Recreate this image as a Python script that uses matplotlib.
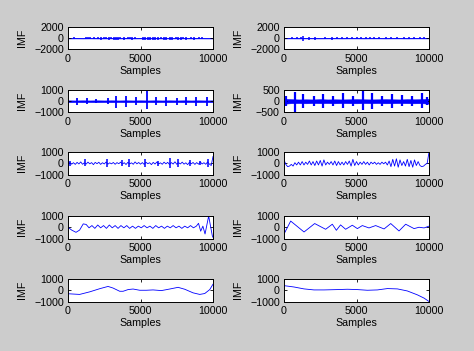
import numpy as np
import matplotlib.pyplot as plt

plt.rcParams['font.family'] = ['Liberation Sans', 'DejaVu Sans']
plt.rcParams['font.size'] = 7.7

# ---- data (samples 0..10000) ----
# dense IMFs: narrow envelope of the background + burst extents
band_x = [0, 500, 1000, 1500, 2000, 2500, 3000, 3500, 4000, 4500, 5000,
          5500, 6000, 6500, 7000, 7500, 8000, 8500, 9000, 9500, 10000]

imf1_hi = [40, 30, 40, 30, 40, 40, 30, 40, 30, 40, 30, 40, 30, 40, 30, 40, 30, 40, 30, 40, 40]
imf1_lo = [-40, -30, -40, -30, -40, -40, -30, -40, -30, -40, -30, -40, -30, -40, -30, -40, -30, -40, -30, -40, -40]
imf1_burst_x = [391, 1219, 1380, 1541, 1794, 2093, 2300, 2461, 2645, 2829, 2990, 3174,
                3335, 3450, 3611, 3841, 4140, 4255, 4439, 4600, 5175, 5336, 5520, 5681,
                5865, 6026, 6210, 6440, 6601, 6785, 7015, 7199, 7429, 7590, 7774, 7935,
                8119, 8510, 8694, 9039, 9269]
imf1_burst_hi = [200, 150, 200, 150, 200, 150, 250, 200, 150, 250, 200, 300,
                 250, 300, 200, 250, 200, 150, 250, 200, 250, 300, 250, 300,
                 250, 300, 250, 200, 300, 250, 300, 250, 200, 300, 250, 200,
                 250, 200, 250, 150, 200]
imf1_burst_lo = [-200, -150, -200, -150, -200, -150, -250, -200, -150, -250, -200, -300,
                 -250, -300, -200, -250, -200, -150, -250, -200, -250, -300, -250, -300,
                 -250, -300, -250, -200, -300, -250, -300, -250, -200, -300, -250, -200,
                 -250, -200, -250, -150, -200]

imf2_hi = [30, 30, 40, 30, 30, 40, 30, 30, 40, 30, 30, 40, 30, 30, 40, 30, 30, 40, 30, 30, 30]
imf2_lo = [-30, -30, -40, -30, -30, -40, -30, -30, -40, -30, -30, -40, -30, -30, -40, -30, -30, -40, -30, -30, -30]
imf2_burst_x = [575, 920, 1196, 1334, 1725, 2116, 2806, 3335, 3680, 4025, 4370, 4715,
                5014, 5336, 5635, 5934, 6210, 6555, 7015, 7360, 7820, 8280, 8625, 8970,
                9384, 9660]
imf2_burst_hi = [150, 200, 200, 450, 200, 250, 150, 300, 200, 150, 200, 150,
                 200, 150, 200, 200, 150, 200, 150, 150, 200, 150, 200, 150,
                 200, 150]
imf2_burst_lo = [-150, -200, -200, -450, -250, -250, -150, -300, -200, -150, -200, -150,
                 -200, -150, -200, -200, -150, -200, -150, -150, -200, -150, -200, -150,
                 -200, -150]

imf3_hi = [80, 70, 80, 70, 80, 70, 80, 70, 80, 70, 80, 70, 80, 70, 80, 70, 80, 70, 80, 70, 80]
imf3_lo = [-80, -70, -80, -70, -80, -70, -80, -70, -80, -70, -80, -70, -80, -70, -80, -70, -80, -70, -80, -70, -80]
imf3_burst_x = [621, 1311, 1955, 2760, 3335, 4025, 4715, 5474, 6095, 6785, 7521, 8165, 8855, 9591]
imf3_burst_hi = [300, 250, 200, 250, 460, 450, 350, 890, 350, 400, 300, 350, 400, 400]
imf3_burst_lo = [-300, -250, -200, -250, -615, -500, -350, -700, -350, -400, -300, -350, -400, -400]

imf4_hi = [110, 90, 80, 85, 80, 90, 80, 85, 80, 85, 90, 85, 80, 85, 90, 85, 80, 90, 85, 90, 110]
imf4_lo = [-110, -85, -80, -90, -80, -85, -80, -90, -80, -85, -90, -80, -85, -80, -90, -85, -80, -85, -90, -85, -110]
imf4_burst_x = [115, 736, 1311, 2070, 2714, 3404, 4094, 4784, 5474, 6095, 6785, 7475,
                8165, 8855, 9545, 9850]
imf4_burst_hi = [230, 415, 340, 230, 300, 230, 380, 230, 450, 380, 230, 300, 260, 230, 380, 180]
imf4_burst_lo = [-230, -480, -280, -200, -280, -230, -280, -230, -385, -350, -230, -280, -230, -230, -320, -170]

# left, row 3: wiggly background line + bursts
imf5_line = [0, 60, -80, 50, -100, 80, -60, 120, -90, 40, -70, 100, -50, 60, -120, 80,
             -40, 90, -100, 50, -60, 110, -80, 40, -50, 70, -90, 60, -40, 100, -70, 50,
             -110, 80, -60, 40, -90, 120, -50, 70, -80, 60, -100, 90, -40, 50, -120, 80,
             -70, 110, -60, 40, -90, 100, -50, 80, -110, 60, -70, 130, -90, 50, -60, 100,
             -80, 40, -120, 90, -50, 70, -100, 60, -80, 110, -60, 50, -90, 120, -70, -200, 600]
imf5_burst_x = [160, 1150, 2690, 3726, 4209, 5313, 6233, 7015, 7590, 8395, 9085, 9637]
imf5_burst_hi = [200, 340, 340, 260, 340, 340, 200, 430, 340, 260, 200, 340]
imf5_burst_lo = [-230, -230, -310, -260, -370, -370, -230, -430, -370, -230, -170, -370]

# right, row 3: oscillating IMF on a 125-sample grid
imf6_line = [300, -100, -300, -250, -100, -250, 50, -150, 100, -150, 150, -150, 100, -100,
             200, -150, 150, -200, 200, -150, 250, -250, 300, -150, 100, -100, 150, -150,
             200, -200, 150, -150, 100, -150, 150, -100, 200, -250, 350, -200, 150, -150,
             100, -100, 150, -100, 100, -150, 100, -50, 100, -100, 50, -100, 100, -50,
             100, -150, 200, -300, 350, -250, 400, -350, 300, -200, 150, -250, 350, -300,
             250, -350, 300, -200, 150, -200, -300, -250, -100, 0, 1000]

# slow IMFs: (sample, value) knots
imf7_x = [0, 250, 550, 800, 1050, 1250, 1450, 1650, 1850, 2050, 2250, 2450, 2650, 2850,
          3050, 3250, 3450, 3650, 3850, 4050, 4250, 4450, 4650, 4850, 5050, 5250, 5450,
          5650, 5850, 6050, 6250, 6450, 6650, 6850, 7050, 7250, 7450, 7650, 7850, 8050,
          8250, 8450, 8650, 8850, 9000, 9150, 9300, 9450, 9700, 9950, 10000]
imf7_y = [0, -250, -450, -250, 300, 250, -50, 150, -100, 200, -50, 150, -100, 200,
          -50, 150, -100, 150, -50, 150, -100, 100, -100, 100, -50, 150, -50,
          100, -100, 150, -50, 100, -100, 100, -50, 150, -50, 100, -100, 100,
          -50, 150, -50, 100, 350, -350, 100, -600, 1000, -750, -900]

imf8_x = [0, 460, 1380, 2115, 2870, 3330, 3610, 3900, 4250, 4710, 5060, 5400, 5860,
          6320, 6900, 7360, 7930, 8390, 8970, 9310, 9660, 10000]
imf8_y = [-600, 550, -420, 330, -180, 270, -270, 210, -180, 180, -120, 150, -60,
          150, -150, 330, -330, 270, -120, 0, -60, 100]

imf9_x = [0, 800, 1500, 2190, 2760, 3100, 3565, 3800, 4140, 4485, 4945, 5400, 5865,
          6440, 7015, 7590, 8050, 8625, 9085, 9430, 9775, 10000]
imf9_y = [-310, -370, -140, 140, 340, 200, -90, -90, 60, 110, 0, 0, 30,
          -30, 110, 260, 90, -230, -370, -290, 60, 540]

imf10_x = [0, 690, 1380, 2070, 2760, 3680, 4370, 5060, 5750, 6440, 7130, 7820,
           8500, 9200, 9660, 10000]
imf10_y = [410, 290, 120, 30, 30, 60, 90, 60, 0, 30, 150, 120, -60, -410, -700, -1000]

# ---- figure ----
fig = plt.figure(figsize=(4.74, 3.51), dpi=100, facecolor='#cccccc')

col_left = [0.1435, 0.5992]
row_bottom = [0.859, 0.6795, 0.5028, 0.3205, 0.141]
ax_w, ax_h = 0.3059, 0.0641


def make_ax(row, col, lim):
    ax = fig.add_axes([col_left[col], row_bottom[row], ax_w, ax_h])
    ax.set_xlim(0, 10000)
    ax.set_ylim(-lim, lim)
    ax.set_xticks([0, 5000, 10000])
    ax.set_yticks([-lim, 0, lim])
    ax.tick_params(direction='in', length=2.5, width=0.6, top=True, right=True,
                   labelsize=7.7, pad=3)
    for s in ax.spines.values():
        s.set_linewidth(0.7)
    ax.set_xlabel('Samples', labelpad=2)
    ax.set_ylabel('IMF')
    ax.yaxis.set_label_coords(-0.28, 0.5)
    return ax


def dense(ax, hi, lo, bx, bhi, blo, w=1.1):
    ax.fill_between(band_x, lo, hi, color='blue', lw=0.4)
    ax.vlines(bx, blo, bhi, color='blue', lw=w)


ax = make_ax(0, 0, 2000)
dense(ax, imf1_hi, imf1_lo, imf1_burst_x, imf1_burst_hi, imf1_burst_lo)
ax = make_ax(0, 1, 2000)
dense(ax, imf2_hi, imf2_lo, imf2_burst_x, imf2_burst_hi, imf2_burst_lo)
ax = make_ax(1, 0, 1000)
dense(ax, imf3_hi, imf3_lo, imf3_burst_x, imf3_burst_hi, imf3_burst_lo, w=1.3)
ax = make_ax(1, 1, 500)
dense(ax, imf4_hi, imf4_lo, imf4_burst_x, imf4_burst_hi, imf4_burst_lo, w=1.6)

ax = make_ax(2, 0, 1000)
ax.plot(np.linspace(0, 10000, len(imf5_line)), imf5_line, color='blue', lw=0.6)
ax.vlines(imf5_burst_x, imf5_burst_lo, imf5_burst_hi, color='blue', lw=1.1)

ax = make_ax(2, 1, 1000)
ax.plot(np.linspace(0, 10000, len(imf6_line)), imf6_line, color='blue', lw=0.6)

ax = make_ax(3, 0, 1000)
ax.plot(imf7_x, imf7_y, color='blue', lw=0.6)
ax = make_ax(3, 1, 1000)
ax.plot(imf8_x, imf8_y, color='blue', lw=0.6)
ax = make_ax(4, 0, 1000)
ax.plot(imf9_x, imf9_y, color='blue', lw=0.6)
ax = make_ax(4, 1, 1000)
ax.plot(imf10_x, imf10_y, color='blue', lw=0.6)

fig.savefig('out.png', dpi=100, facecolor=fig.get_facecolor())
